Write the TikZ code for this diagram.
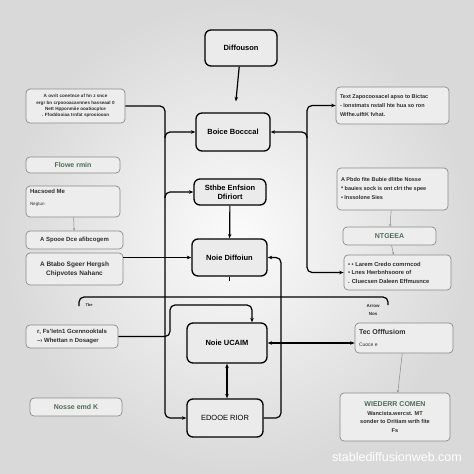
\documentclass[tikz,border=0pt]{standalone}
\usepackage{fontspec}
\setmainfont{Liberation Sans}
\usetikzlibrary{calc, arrows.meta}
\definecolor{boxfill}{HTML}{EBEBEB}
\definecolor{notefill}{HTML}{EDEDED}
\definecolor{noteline}{HTML}{8A8A8A}
\definecolor{sage}{HTML}{4E6B58}
\definecolor{inkgray}{HTML}{2E2E2E}
\tikzset{blk/.style  = {rectangle, rounded corners=6pt, line width=1.3pt, draw, fill=boxfill, inner sep=0pt, align=center, font=\bfseries\fontsize{7.5}{9}\selectfont},
         nte/.style  = {rectangle, rounded corners=4pt, line width=0.7pt, draw=noteline, fill=notefill, inner xsep=4pt, inner ysep=0pt, text=inkgray},
         tag/.style  = {nte, align=center, text=sage, font=\bfseries\fontsize{7}{8}\selectfont},
         wire/.style = {line width=1.2pt, rounded corners=5pt},
         tick/.style = {draw=noteline, line width=0.5pt, >={Stealth[length=2.5pt, width=2pt]}}}

\begin{document}
\begin{tikzpicture}[x=1pt, y=-1pt, >={Stealth[length=4.5pt, width=3.5pt]}]
  \useasboundingbox (0,0) rectangle (474,474);
  \shade[inner color=gray!3, outer color=gray!30] (0,0) rectangle (474,474);

  % main column
  \node[blk, minimum width=72, minimum height=36] (d)  at (241,48)    {Diffouson};
  \node[blk, minimum width=74, minimum height=38] (bc) at (233,132)   {Boice Bocccal};
  \node[blk, minimum width=72, minimum height=26] (se) at (230,192)   {Sthbe Enfsion\\Dfiriort};
  \node[blk, minimum width=75, minimum height=37] (nd) at (229.5,257.5) {Noie Diffoiun};
  \node[blk, minimum width=80, minimum height=40] (nu) at (227,343)   {Noie UCAIM};
  \node[blk, minimum width=76, minimum height=38, font=\fontsize{7.5}{9}\selectfont] (er) at (225,418) {EDOOE RIOR};

  % left notes
  \node[nte, font=\bfseries\fontsize{4.6}{6.3}\selectfont] (l1) at (75.5,106)
    {\parbox[c][34pt][c]{91pt}{\centering A ovrit conetnce af hn z snce\\ ergr bn crpoooacavnnes hasseaal 0\\ Nett Hpponmiie ooatiocplce\\ . Ffoddooiaa trnfat sprooiooan}};
  \node[tag, minimum width=94, minimum height=16] (l2) at (73,165) {Flowe rmin};
  \node[nte] (l3) at (73,201.5)
    {\parbox[c][31pt][t]{86pt}{\vspace{3pt}{\bfseries\fontsize{6}{8}\selectfont Hacsoed Me}\\{\fontsize{4.5}{6}\selectfont Negtun}}};
  \node[nte, minimum width=97, minimum height=18, font=\bfseries\fontsize{6}{7}\selectfont] (l4) at (74.5,240) {A Spooe Dce afibcogem};
  \node[nte, minimum width=97, minimum height=32, align=center, font=\bfseries\fontsize{6.5}{9}\selectfont] (l5) at (74.5,269) {A Btabo Sgeer Hergsh\\ Chipvotes Nahanc};
  \node[nte, minimum width=92, minimum height=23, align=left, font=\bfseries\fontsize{6}{9}\selectfont] (l6) at (72,336.5) {r‚ Fs’Ietn1 Gcennooktals\\ –› Whettan n Dosager};
  \node[tag, minimum width=92, minimum height=18] (l7) at (76,407) {Nosse emd K};

  % right notes
  \node[nte, font=\bfseries\fontsize{5.5}{9}\selectfont] (r1) at (392.5,105.5)
    {\parbox[c][37pt][c]{105pt}{Text Zapocoosacel apso to Bictac\\ - Ionstmats nstall hte hua so ron\\ Wifhe.uIftK fvhat.}};
  \node[nte, font=\bfseries\fontsize{5.5}{9}\selectfont] (r2) at (392.5,189)
    {\parbox[c][42pt][c]{103pt}{A Pbdo fite Bubie dlitbe Nosse\\ ** bauies sock is ont clrt the spee\\ • Inssolone Sies}};
  \node[tag, minimum width=93, minimum height=18] (r3) at (389.5,236) {NTGEEA};
  \node[nte, font=\bfseries\fontsize{5.8}{8.5}\selectfont] (r4) at (397.5,272.5)
    {\parbox[c][35pt][c]{99pt}{• • Larem Credo comrncod\\ • Lnes Hwrbnhsoore of\\ . Cluecsen Daleen Effmusnce}};
  \node[nte] (r5) at (404,338)
    {\parbox[c][30pt][c]{90pt}{{\bfseries\fontsize{7}{9}\selectfont Tec Offfusiom}\\{\fontsize{5}{7}\selectfont Cuoce e}}};
  \node[nte, align=center, font=\bfseries\fontsize{5.6}{8.5}\selectfont] (r6) at (395,417)
    {\parbox[c][48pt][c]{102pt}{\centering{\color{sage}\fontsize{7}{9}\selectfont WIEDERR COMEN}\\ Wancista.wercst. MT\\ sonder to Dritiam wrth fite\\ Fs}};

  % labels on the crossing line
  \node[font=\bfseries\fontsize{4}{5}\selectfont, text=inkgray, anchor=west] (tb) at (82,305) {Tbe};
  \node[font=\bfseries\fontsize{4.5}{8}\selectfont, text=inkgray, align=center] (an) at (373,310) {Arrow\\Nos};
  \node[font=\fontsize{12.5}{14}\selectfont, text=white] (wm) at (397,457) {stablediffusionweb.com};

  % bus coordinates
  \coordinate (lb) at (165,0);
  \coordinate (rb) at (281,0);
  \coordinate (tr) at (307,190);
  \coordinate (hl) at (0,297);
  \coordinate (hw) at (79,306);
  \coordinate (he) at (388,305);
  \coordinate (lj) at (170,305);
  \coordinate (ui) at (252,0);

  % connectors
  \draw[wire, ->, shorten >=11pt] (d) -- (bc);
  \draw[wire, ->] (l1.east) -| (lb |- er.west) -- (er.west);
  \draw[wire, ->] ($(lb |- bc.west)+(0,6)$) |- (bc.west);
  \draw[wire, ->] ($(lb |- se.west)+(0,6)$) |- (se.west);
  \draw[wire, ->] (l5.east |- nd.west) -- (nd.west);
  \draw[wire, ->] (se) -- (nd);
  \draw[wire] (nd.south) -- ++(0,4);
  \draw[wire] (hw) |- (he |- hl) -- (he);
  \draw[wire, ->] (l6.east) -| (lj) -| (ui |- nu.north);
  \draw[wire, <->] (nu.south) -- (nu.south |- er.north);
  \draw[wire, ->] (er.east) -| (rb |- nd.east) -- (nd.east);
  \draw[wire, <->] (nu.east) -- (r5.west |- nu.east);
  \draw[wire, <->] (r1.west) -| (tr) |- (r4.west);
  \draw[wire, ->] ($(tr |- bc.east)+(0,6)$) |- (bc.east);
  \draw[tick, ->] (l3) -- (l4);
  \draw[tick, ->] (r2) -- (r3);
  \draw[tick, ->] (r3) -- (r4);
  \draw[tick, ->] (r5) -- (r6);
\end{tikzpicture}
\end{document}
